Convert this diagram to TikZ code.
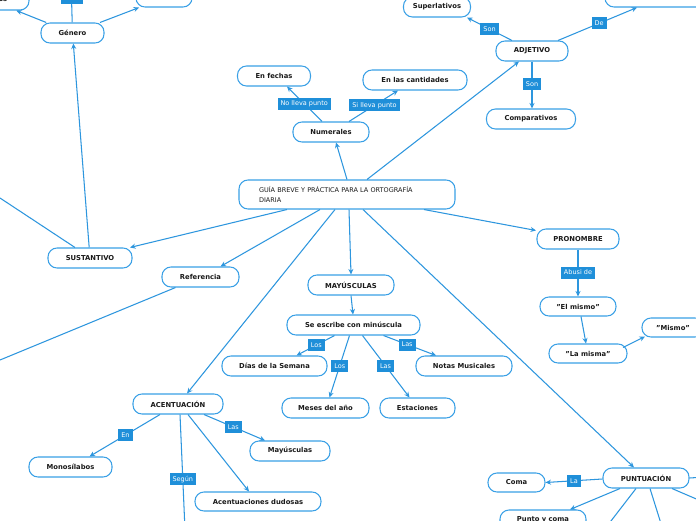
\documentclass[tikz,border=0pt]{standalone}
\usepackage{fontspec}
\setmainfont{DejaVu Sans}
\usetikzlibrary{arrows.meta}
\definecolor{edgeblue}{HTML}{2D96DE}
\definecolor{boxblue}{HTML}{3AA0E6}
\definecolor{lblblue}{HTML}{1F8FD9}
\definecolor{inktext}{HTML}{1A1A1A}
\newcommand{\dq}{\char34\relax}
\tikzset{
  topic/.style={draw=boxblue, line width=1.05pt, fill=white, rounded corners=9pt,
    minimum height=20pt, inner sep=1pt, text=inktext,
    font=\bfseries\fontsize{6.8}{8}\selectfont},
  lbl/.style={fill=lblblue, text=white, inner xsep=3pt, inner ysep=1.5pt,
    minimum height=12pt, font=\fontsize{6.5}{7.5}\selectfont},
  conn/.style={draw=edgeblue, line width=1.05pt},
  arr/.style={conn, -{Stealth[length=5.5pt,width=5pt]}}
}
\begin{document}
\begin{tikzpicture}[x=1pt,y=-1pt]
\useasboundingbox (0,0) rectangle (696,520);
\clip (0,0) rectangle (696,520);
\fill[white] (0,0) rectangle (696,520);

% off-image coordinates
\coordinate (gup) at (71,-20);
\coordinate (sul) at (0,198);
\coordinate (refl) at (0,360);
\coordinate (acd) at (185,530);
\coordinate (p1) at (604,530);
\coordinate (p2) at (663,530);
\coordinate (p3) at (715,507);
\coordinate (p4) at (705,477);

% nodes
\node[topic, minimum width=63pt] (gen) at (72.5,33) {Género};
\node[topic, minimum width=78pt, minimum height=20pt] (tl) at (-10,0) {Ejemplos};
\node[topic, minimum width=56pt, minimum height=18pt] (tr) at (164,-2) {};
\node[topic, minimum width=67pt] (sup) at (437,7) {Superlativos};
\node[topic, minimum width=110pt, minimum height=18pt] (trr) at (660,-2) {};
\node[topic, minimum width=72pt] (adj) at (532,51) {ADJETIVO};
\node[topic, minimum width=89pt] (comp) at (531,119) {Comparativos};
\node[topic, minimum width=73pt] (fech) at (274,76) {En fechas};
\node[topic, minimum width=104pt] (cant) at (415,80) {En las cantidades};
\node[topic, minimum width=76pt] (num) at (331,132) {Numerales};
\node[topic, minimum width=216pt, minimum height=29pt, text width=176pt, align=left,
  font=\fontsize{6.5}{10}\selectfont] (main) at (347,194.5)
  {GUÍA BREVE Y PRÁCTICA PARA LA ORTOGRAFÍA\\DIARIA};
\node[topic, minimum width=84pt] (sus) at (90,258) {SUSTANTIVO};
\node[topic, minimum width=77pt] (ref) at (200.5,277) {Referencia};
\node[topic, minimum width=86pt] (may) at (351,285) {MAYÚSCULAS};
\node[topic, minimum width=82pt] (pro) at (578,239) {PRONOMBRE};
\node[topic, minimum width=76pt, minimum height=19pt] (elm) at (578,306.5) {\dq El mismo\dq};
\node[topic, minimum width=78pt, minimum height=19pt] (lam) at (588,353.5) {\dq La misma\dq};
\node[topic, minimum width=62pt, minimum height=19pt] (mis) at (673,327.5) {\dq Mismo\dq};
\node[topic, minimum width=133pt] (se) at (353.5,325) {Se escribe con minúscula};
\node[topic, minimum width=105pt] (dias) at (274.5,366) {Días de la Semana};
\node[topic, minimum width=96pt] (notas) at (464,366) {Notas Musicales};
\node[topic, minimum width=87pt] (meses) at (325.5,408) {Meses del año};
\node[topic, minimum width=75pt] (est) at (417.5,408) {Estaciones};
\node[topic, minimum width=90pt] (acen) at (178,404) {ACENTUACIÓN};
\node[topic, minimum width=83pt] (mono) at (70.5,467) {Monosílabos};
\node[topic, minimum width=80pt] (mayu) at (290,451) {Mayúsculas};
\node[topic, minimum width=126pt, minimum height=19pt] (dud) at (258,501.5) {Acentuaciones dudosas};
\node[topic, minimum width=86pt] (pun) at (646,478) {PUNTUACIÓN};
\node[topic, minimum width=57pt, minimum height=19pt] (coma) at (516.5,482.5) {Coma};
\node[topic, minimum width=86pt] (pyc) at (543,520) {Punto y coma};

% connectors
\draw[arr] (gen) -- (tl);
\draw[arr] (gen) -- (tr);
\draw[conn] (gen) -- node[lbl, pos=0.58, minimum width=22pt] {} (gup);
\draw[arr] (sus) -- (gen);
\draw[conn] ([xshift=-15pt]sus.north) -- (sul);
\draw[conn] ([xshift=-25pt]ref.south) -- (refl);

\draw[arr] (main.north) -- ([xshift=5pt]num.south);
\draw[arr] ([xshift=20pt]main.north) -- ([xshift=-13pt]adj.south);
\draw[arr] ([xshift=-60pt]main.south) -- ([xshift=40pt]sus.north);
\draw[arr] ([xshift=-27pt]main.south) -- ([xshift=20pt]ref.north);
\draw[arr] ([xshift=-12pt]main.south) -- ([xshift=9pt]acen.north);
\draw[arr] ([xshift=2pt]main.south) -- (may.north);
\draw[arr] ([xshift=16pt]main.south) -- ([xshift=-12pt]pun.north);
\draw[arr] ([xshift=77pt]main.south) -- ([xshift=-42pt,yshift=-2pt]pro.north);

\draw[arr] ([xshift=-9pt]num.north) -- node[lbl, pos=0.51] {No lleva punto} ([xshift=13pt]fech.south);
\draw[arr] ([xshift=18pt]num.north) -- node[lbl, pos=0.52] {Si lleva punto} ([xshift=-17pt]cant.south);

\draw[arr] ([xshift=-20pt]adj.north) -- node[lbl, pos=0.5] {Son} ([xshift=30pt]sup.south);
\draw[arr] ([xshift=26pt]adj.north) -- node[lbl, pos=0.52] {De} ([xshift=-23pt]trr.south);
\draw[arr] (adj.south) -- node[lbl, pos=0.48] {Son} ([xshift=1pt]comp.north);

\draw[arr] (may.south) -- ([xshift=-0.5pt]se.north);
\draw[arr] ([xshift=-19pt]se.south) -- node[lbl, pos=0.48] {Los} ([xshift=22pt]dias.north);
\draw[arr] ([xshift=-4pt]se.south) -- node[lbl, pos=0.49] {Los} ([xshift=4pt]meses.north);
\draw[arr] ([xshift=9pt]se.south) -- node[lbl, pos=0.49] {Las} ([xshift=-8pt]est.north);
\draw[arr] ([xshift=30pt]se.south) -- node[lbl, pos=0.45] {Las} ([xshift=-28pt]notas.north);

\draw[arr] (pro.south) -- node[lbl, pos=0.49] {Abusi de} (elm.north);
\draw[arr] ([xshift=3pt]elm.south) -- ([xshift=-2pt]lam.north);
\draw[arr] ([xshift=35pt,yshift=6pt]lam.center) -- ([xshift=-28pt,yshift=-9pt]mis.center);

\draw[arr] ([xshift=-18pt]acen.south) -- node[lbl, pos=0.49] {En} ([xshift=19pt]mono.north);
\draw[arr] ([xshift=26pt]acen.south) -- node[lbl, pos=0.48] {Las} ([xshift=-25pt]mayu.north);
\draw[arr] ([xshift=10pt]acen.south) -- ([xshift=-9pt]dud.north);
\draw[arr] ([xshift=2pt]acen.south) -- node[lbl, pos=0.56] {Según} (acd);

\draw[arr] ([yshift=-1pt]pun.west) -- node[lbl, pos=0.5] {La} (coma.east);
\draw[arr] ([xshift=-26pt]pun.south) -- ([xshift=27pt]pyc.north);
\draw[arr] ([xshift=-10pt]pun.south) -- (p1);
\draw[arr] ([xshift=4pt]pun.south) -- (p2);
\draw[arr] ([xshift=26pt]pun.south) -- (p3);
\draw[arr] (pun.east) -- (p4);
\end{tikzpicture}
\end{document}
